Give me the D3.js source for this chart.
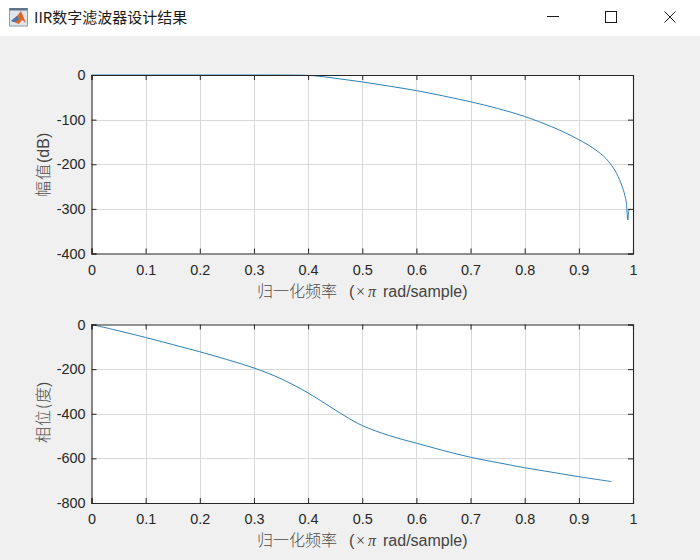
<!DOCTYPE html>
<html><head><meta charset="utf-8">
<script src="https://cdn.jsdelivr.net/npm/d3@7"></script>
<style>
html,body{margin:0;padding:0;background:#f0f0f0;}
svg{display:block;}
text{font-family:"Liberation Sans",Arial,sans-serif;}
</style></head><body>
<svg id="c" width="700" height="560"></svg>
<script>
const windowTitle = "IIR数字滤波器设计结果";
const freqTicks = [0,0.1,0.2,0.3,0.4,0.5,0.6,0.7,0.8,0.9,1];
const freqLabels = ["0","0.1","0.2","0.3","0.4","0.5","0.6","0.7","0.8","0.9","1"];
const magTicks = [0,-100,-200,-300,-400];
const phaseTicks = [0,-200,-400,-600,-800];
const magFreq = [0,0.1,0.2,0.3,0.36,0.39,0.41,0.43,0.46,0.5,0.55,0.6,0.65,0.7,0.75,0.8,0.85,0.9,0.93,0.95,0.96,0.97,0.98,0.985,0.988,0.9905,0.992,0.995];
const magValues = [0,0,0,0,-0.1,-0.5,-1.6,-4,-9,-15.5,-25,-35,-47,-60,-75,-93,-116,-145,-167,-187,-202,-221,-250,-270,-290,-325,-305,-300];
const phaseFreq = [0,0.05,0.1,0.15,0.2,0.25,0.3,0.35,0.4,0.43,0.45,0.47,0.5,0.55,0.6,0.65,0.7,0.75,0.8,0.85,0.9,0.96];
const phaseValues = [0,-28,-58,-90,-122,-157,-195,-243,-307,-352,-383,-413,-453,-498,-532,-565,-595,-619,-642,-662,-682,-704];
const xLabel = "归一化频率";
const xLabelUnit = "rad/sample)";
const yLabelMag = ["幅值","(dB)"];
const yLabelPhase = ["相位(","度",")"];

const svg = d3.select("#c");
const CJK = '"Noto Sans CJK SC",sans-serif';
const ink = "#262626", labelInk = "#434343", cjkInk = "#4c4c4c", curve = "#2f80b4", gridC = "#d9d9d9";

// window chrome
svg.append("rect").attr("width",700).attr("height",36).attr("fill","#fff");
svg.append("text").attr("x",34).attr("y",23).attr("font-size",15).attr("fill","#1a1a1a")
  .style("font-family",CJK).text(windowTitle);
const icon = svg.append("g");
icon.append("rect").attr("x",9.5).attr("y",8.5).attr("width",18).attr("height",17.5).attr("fill","#dfe6ee").attr("stroke","#8c9aaa");
icon.append("rect").attr("x",9.5).attr("y",8).attr("width",18).attr("height",2.5).attr("fill","#5f7488");
icon.append("path").attr("d","M11 21 L17 16 L21 11 L26 23 L22 20 L19 24 Z").attr("fill","#d9682a");
icon.append("path").attr("d","M11 21 L17 16 L19 19 L15 22 Z").attr("fill","#3c78b4");
const chrome = svg.append("g").attr("fill","none").attr("stroke","#1a1a1a").attr("stroke-width",1);
chrome.append("path").attr("d","M547 16.5H559");
chrome.append("rect").attr("x",605.5).attr("y",11.5).attr("width",11).attr("height",11);
chrome.append("path").attr("d","M664.5 11.5L675.5 22.5M675.5 11.5L664.5 22.5");

const left = 91.5, right = 633;
const x = d3.scaleLinear().domain([0,1]).range([left,right]);

function panel(top, bottom, yDomain, yTicks, xs, ys, curveType, yLabelBuilder, yLabelY){
  const y = d3.scaleLinear().domain(yDomain).range([top,bottom]);
  const g = svg.append("g");
  g.append("rect").attr("x",left).attr("y",top).attr("width",right-left).attr("height",bottom-top).attr("fill","#fff");
  g.selectAll(".gx").data(freqTicks.slice(1,-1)).enter().append("line")
    .attr("x1",d=>Math.round(x(d))+.5).attr("x2",d=>Math.round(x(d))+.5).attr("y1",top).attr("y2",bottom)
    .attr("stroke",gridC).attr("stroke-width",1);
  g.selectAll(".gy").data(yTicks.slice(1,-1)).enter().append("line")
    .attr("y1",d=>Math.round(y(d))+.5).attr("y2",d=>Math.round(y(d))+.5).attr("x1",left).attr("x2",right)
    .attr("stroke",gridC).attr("stroke-width",1);
  const line = d3.line().x((d,i)=>x(xs[i])).y(d=>y(d)).curve(curveType);
  g.append("path").datum(ys).attr("d",line).attr("fill","none").attr("stroke",curve).attr("stroke-width",1);
  const bottomAxis = d3.axisBottom(x).tickValues(freqTicks).tickFormat((d,i)=>freqLabels[i]).tickSize(-5).tickPadding(11);
  const topAxis = d3.axisTop(x).tickValues(freqTicks).tickFormat("").tickSize(-5);
  const leftAxis = d3.axisLeft(y).tickValues(yTicks).tickFormat(d=>String(d)).tickSize(-5).tickPadding(6);
  const rightAxis = d3.axisRight(y).tickValues(yTicks).tickFormat("").tickSize(-5);
  [[bottomAxis,0,bottom],[topAxis,0,top],[leftAxis,left,0],[rightAxis,right,0]].forEach(([a,tx,ty])=>{
    const ag = svg.append("g").attr("transform",`translate(${tx},${ty})`).call(a);
    ag.selectAll("path").attr("stroke",ink).attr("stroke-width",1.1);
    ag.selectAll("line").attr("stroke",ink).attr("stroke-width",1);
    ag.selectAll("text").attr("fill",ink).attr("font-size",14.4).style("font-family",'"Liberation Sans",Arial,sans-serif');
  });
  const ly = bottom+43;
  svg.append("text").attr("x",257).attr("y",ly).attr("fill",cjkInk).attr("font-size",16)
    .style("font-family",CJK).attr("font-weight",300).text(xLabel);
  svg.append("text").attr("x",349).attr("y",ly).attr("fill",labelInk).attr("font-size",16).text("(");
  svg.append("text").attr("x",356).attr("y",ly).attr("fill",labelInk).attr("font-size",16).style("font-family",'"Liberation Serif",serif').text("×");
  svg.append("text").attr("x",368).attr("y",ly).attr("fill",labelInk).attr("font-size",16).attr("font-style","italic").style("font-family",'"Liberation Serif",serif').text("π");
  svg.append("text").attr("x",383).attr("y",ly).attr("fill",labelInk).attr("font-size",16).text(xLabelUnit);
  const yl = svg.append("text").attr("transform",`translate(49,${yLabelY}) rotate(-90)`).attr("fill",cjkInk).attr("font-size",16);
  yLabelBuilder(yl);
}
panel(75,253.5,[0,-400],magTicks,magFreq,magValues,d3.curveMonotoneX,t=>{
  t.append("tspan").style("font-family",CJK).attr("letter-spacing",1).attr("font-weight",300).text(yLabelMag[0]);
  t.append("tspan").attr("fill",labelInk).text(yLabelMag[1]);
},197);
panel(324.5,503,[0,-800],phaseTicks,phaseFreq,phaseValues,d3.curveCatmullRom.alpha(0.5),t=>{
  t.append("tspan").style("font-family",CJK).attr("letter-spacing",1).attr("font-weight",300).text(yLabelPhase[0]);
  t.append("tspan").style("font-family",CJK).attr("font-weight",300).text(yLabelPhase[1]);
  t.append("tspan").text(yLabelPhase[2]);
},443);
</script></body></html>
